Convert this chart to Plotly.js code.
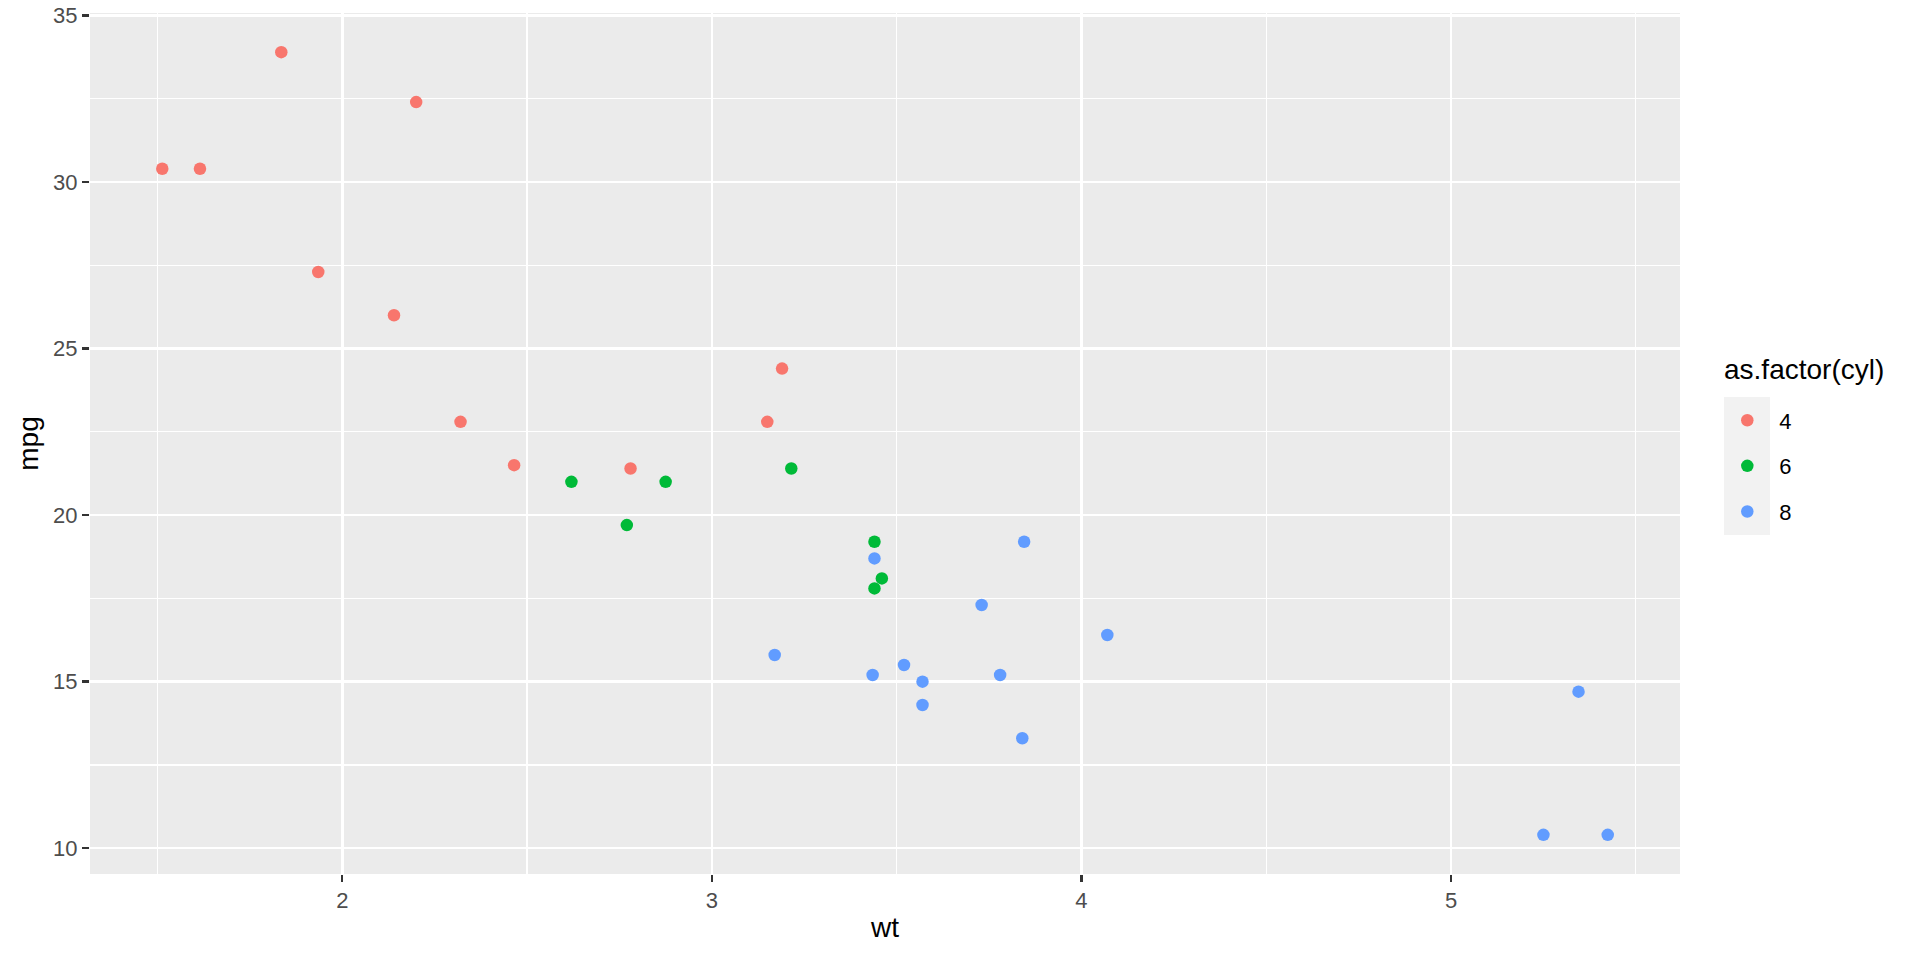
<!DOCTYPE html>
<html>
<head>
<meta charset="utf-8">
<script src="https://cdn.plot.ly/plotly-3.0.1.min.js"></script>
<style>
  html, body { margin: 0; padding: 0; background: #fff; }
  #chart { width: 1920px; height: 960px; }
</style>
</head>
<body>
<div id="chart"></div>
<script>
// mtcars: weight vs fuel economy, coloured by cylinder count (ggplot2 look).
const CYL_LEVELS = ["4", "6", "8"];
const CYL_COLORS = { "4": "#F8766D", "6": "#00BA38", "8": "#619CFF" };

const wt = [2.620, 2.875, 2.320, 3.215, 3.440, 3.460, 3.570, 3.190, 3.150, 3.440, 3.440,
  4.070, 3.730, 3.780, 5.250, 5.424, 5.345, 2.200, 1.615, 1.835, 2.465, 3.520, 3.435,
  3.840, 3.845, 1.935, 2.140, 1.513, 3.170, 2.770, 3.570, 2.780];
const mpg = [21.0, 21.0, 22.8, 21.4, 18.7, 18.1, 14.3, 24.4, 22.8, 19.2, 17.8,
  16.4, 17.3, 15.2, 10.4, 10.4, 14.7, 32.4, 30.4, 33.9, 21.5, 15.5, 15.2,
  13.3, 19.2, 27.3, 26.0, 30.4, 15.8, 19.7, 15.0, 21.4];
const cyl = ["6", "6", "4", "6", "8", "6", "8", "4", "4", "6", "6",
  "8", "8", "8", "8", "8", "8", "4", "4", "4", "4", "8", "8",
  "8", "8", "4", "4", "4", "8", "6", "8", "4"];

const xTicks = [2, 3, 4, 5];
const yTicks = [10, 15, 20, 25, 30, 35];

const FONT = "Liberation Sans, Arial, Helvetica, sans-serif";

// ggplot's default 5% expansion on both axes
function expand(vals) {
  const lo = Math.min(...vals), hi = Math.max(...vals);
  const pad = (hi - lo) * 0.05;
  return [lo - pad, hi + pad];
}

const traces = CYL_LEVELS.map((lvl) => {
  const idx = cyl.map((c, i) => (c === lvl ? i : -1)).filter((i) => i >= 0);
  return {
    type: "scatter",
    mode: "markers",
    name: lvl,
    legendgroup: lvl,
    x: idx.map((i) => wt[i]),
    y: idx.map((i) => mpg[i]),
    marker: { size: 12.5, color: CYL_COLORS[lvl], line: { width: 0 } },
    hoverinfo: "skip",
  };
});

const axisCommon = {
  showgrid: true,
  gridcolor: "#FFFFFF",
  gridwidth: 2.6,
  zeroline: false,
  showline: false,
  ticks: "outside",
  ticklen: 7,
  tickwidth: 2.4,
  tickcolor: "#333333",
  tickfont: { family: FONT, size: 22, color: "#4D4D4D" },
  title: { font: { family: FONT, size: 28, color: "#000000" } },
};

const layout = {
  width: 1920,
  height: 960,
  paper_bgcolor: "#FFFFFF",
  plot_bgcolor: "#EBEBEB",
  margin: { l: 90, r: 240, t: 13, b: 86 },
  font: { family: FONT },
  xaxis: Object.assign({}, axisCommon, {
    range: expand(wt),
    tickvals: xTicks,
    ticktext: xTicks.map(String),
    minor: { dtick: 0.5, tick0: 1.5, showgrid: true, gridcolor: "#FFFFFF", gridwidth: 1.3, ticks: "" },
    title: { text: "wt", font: axisCommon.title.font, standoff: 4 },
  }),
  yaxis: Object.assign({}, axisCommon, {
    range: expand(mpg),
    tickvals: yTicks,
    ticktext: yTicks.map(String),
    minor: { dtick: 2.5, tick0: 12.5, showgrid: true, gridcolor: "#FFFFFF", gridwidth: 1.3, ticks: "" },
    title: { text: "mpg", font: axisCommon.title.font, standoff: 6 },
  }),
  showlegend: true,
  legend: {
    x: 1.0222,
    xanchor: "left",
    y: 0.4739,
    yanchor: "middle",
    bgcolor: "rgba(0,0,0,0)",
    borderwidth: 0,
    itemwidth: 54,
    tracegroupgap: 14,
    font: { family: FONT, size: 22, color: "#000000" },
  },
  // legend title, set apart from the keys as ggplot does
  annotations: [{
    xref: "paper",
    yref: "paper",
    x: 1.0277,
    y: 0.5854,
    xanchor: "left",
    yanchor: "middle",
    xshift: -2,
    showarrow: false,
    text: "as.factor(cyl)",
    font: { family: FONT, size: 28, color: "#000000" },
  }],
  // grey key background behind the legend symbols (theme_grey legend.key)
  shapes: [{
    type: "rect",
    xref: "paper",
    yref: "paper",
    x0: 1.0277,
    x1: 1.0566,
    y0: 0.3937,
    y1: 0.554,
    fillcolor: "#F2F2F2",
    line: { width: 0 },
    layer: "below",
  }],
};

Plotly.newPlot("chart", traces, layout, { staticPlot: true, displayModeBar: false });
</script>
</body>
</html>
